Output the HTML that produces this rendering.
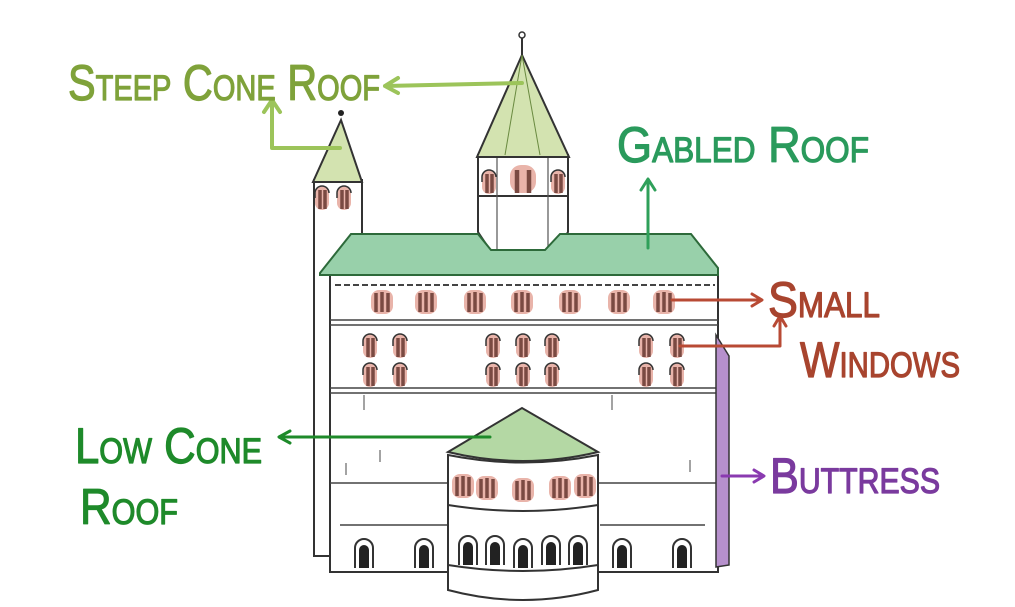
<!DOCTYPE html>
<html><head><meta charset="utf-8"><style>
html,body{margin:0;padding:0;background:#fff;width:1015px;height:607px;overflow:hidden}
svg{display:block}
.t{font-family:"Liberation Sans",sans-serif;font-variant:small-caps;font-size:50px;stroke-width:1.2;stroke-linejoin:round}
</style></head><body>
<svg width="1015" height="607" viewBox="0 0 1015 607" xmlns="http://www.w3.org/2000/svg">
<defs>
<g id="w3"><rect x="-11" y="-12" width="22" height="24" rx="8" fill="#e9b4aa"/><path d="M-6,-9v19M0,-10v20M6,-9v19" stroke="#7a4a42" stroke-width="3.5"/></g>
<g id="w2"><rect x="-7" y="-12" width="14" height="24" rx="7" fill="#e9b4aa"/><path d="M-2,-8v19M3,-8v19" stroke="#7a4a42" stroke-width="3.5"/><path d="M-7,0v-5a7,7 0 0 1 14,0" fill="none" stroke="#333" stroke-width="1.5"/></g>
<g id="dw"><path d="M-9,20v-20a9,9 0 0 1 18,0v20" fill="#fff" stroke="#333" stroke-width="2"/><path d="M-5,20v-18a5,5 0 0 1 10,0v18z" fill="#222"/></g>
</defs>
<rect x="314" y="180" width="48" height="376" fill="#fff" stroke="#333" stroke-width="2"/>
<use href="#w2" x="322" y="198"/><use href="#w2" x="344" y="198"/>
<polygon points="341,120 313,182 362,182" fill="#d3e3b0" stroke="#333" stroke-width="2"/>
<circle cx="341" cy="113" r="3" fill="#222"/>
<polygon points="478,155 568,155 568,232 556,250 490,250 478,232" fill="#fff" stroke="#333" stroke-width="2"/>
<line x1="478" y1="196" x2="568" y2="196" stroke="#333" stroke-width="2"/>
<path d="M497,155v95M548,155v95" stroke="#555" stroke-width="1.2"/>
<use href="#w2" x="489" y="182"/><use href="#w2" x="558" y="182"/>
<rect x="510" y="165" width="26" height="28" rx="11" fill="#e9b4aa"/><path d="M517,170v23M529,170v23" stroke="#7a4a42" stroke-width="4.5"/>
<polygon points="522,55 477,157 569,157" fill="#d3e3b0" stroke="#333" stroke-width="2"/>
<path d="M522,55L505,155M522,55L540,155" stroke="#6a8a40" stroke-width="1"/>
<line x1="522" y1="55" x2="522" y2="38" stroke="#333" stroke-width="2"/><circle cx="522" cy="35" r="3" fill="none" stroke="#333" stroke-width="1.5"/>
<rect x="330" y="274" width="388" height="298" fill="#fff" stroke="#333" stroke-width="2"/>
<path d="M330,320H718M330,325H718M330,388H718M330,393H718M330,483H718M340,525H448M600,525H705" stroke="#444" stroke-width="1.5"/>
<path d="M364,395v15M612,395v15M380,450v12M520,420v10M690,460v12M346,463v12" stroke="#666" stroke-width="1.2"/>
<path d="M335,285H715" stroke="#444" stroke-width="2" stroke-dasharray="6,3"/>
<use href="#w3" x="382" y="302"/><use href="#w3" x="426" y="302"/><use href="#w3" x="475" y="302"/><use href="#w3" x="522" y="302"/><use href="#w3" x="570" y="302"/><use href="#w3" x="619" y="302"/><use href="#w3" x="664" y="302"/>
<use href="#w2" x="370" y="346"/><use href="#w2" x="400" y="346"/><use href="#w2" x="493" y="346"/><use href="#w2" x="523" y="346"/><use href="#w2" x="552" y="346"/><use href="#w2" x="646" y="346"/><use href="#w2" x="677" y="346"/>
<use href="#w2" x="370" y="375"/><use href="#w2" x="400" y="375"/><use href="#w2" x="493" y="375"/><use href="#w2" x="523" y="375"/><use href="#w2" x="552" y="375"/><use href="#w2" x="646" y="375"/><use href="#w2" x="677" y="375"/>
<use href="#dw" x="364" y="548"/><use href="#dw" x="424" y="548"/><use href="#dw" x="622" y="548"/><use href="#dw" x="682" y="548"/>
<polygon points="320,273 351,234 478,234 491,250 545,250 560,234 691,234 718,268 718,275 320,275" fill="#98d0aa" stroke="#2d6a3a" stroke-width="2"/>
<polygon points="716,335 729,356 729,565 716,567" fill="#b690cc" stroke="#333" stroke-width="1.5"/>
<path d="M448,455Q523,470 598,455V590Q523,610 448,590Z" fill="#fff" stroke="#333" stroke-width="2"/>
<path d="M448,505Q523,517 598,505M448,565Q523,577 598,565" fill="none" stroke="#333" stroke-width="2"/>
<use href="#w3" x="463" y="486"/><use href="#w3" x="487" y="488"/><use href="#w3" x="523" y="490"/><use href="#w3" x="560" y="488"/><use href="#w3" x="585" y="486"/>
<use href="#dw" x="468" y="545"/><use href="#dw" x="495" y="545"/><use href="#dw" x="523" y="548"/><use href="#dw" x="551" y="545"/><use href="#dw" x="578" y="545"/>
<path d="M448,452L522,408L598,452Q523,470 448,452Z" fill="#b4d8a4" stroke="#333" stroke-width="2"/>
<g fill="none" stroke-linecap="round" stroke-linejoin="round" stroke-width="4">
<path d="M522,83L385,86M398,78L385,86L398,93" stroke="#9cc45a"/>
<path d="M340,148H272V102M264,112L272,100L280,112" stroke="#9cc45a"/>
<path d="M648,248V180M641,190L648,179L655,190" stroke="#2fa05a" stroke-width="3"/>
<path d="M672,300H760M752,294L762,300L752,306" stroke="#b84a34" stroke-width="3"/>
<path d="M680,346H780V318M774,326L780,316L786,326" stroke="#b84a34" stroke-width="3"/>
<path d="M722,476H762M754,470L764,476L754,482" stroke="#8a3ab0" stroke-width="3"/>
<path d="M490,437H280M290,431L279,437L290,443" stroke="#1e8a2a" stroke-width="3"/>
</g>
<text class="t" x="68" y="100" textLength="312" lengthAdjust="spacingAndGlyphs" fill="#7fa23a" stroke="#7fa23a">Steep Cone Roof</text>
<text class="t" x="617" y="162" textLength="252" lengthAdjust="spacingAndGlyphs" fill="#2a9a5c" stroke="#2a9a5c">Gabled Roof</text>
<text class="t" x="768" y="317" textLength="112" lengthAdjust="spacingAndGlyphs" fill="#a8442e" stroke="#a8442e">Small</text>
<text class="t" x="800" y="377" textLength="160" lengthAdjust="spacingAndGlyphs" fill="#a8442e" stroke="#a8442e">Windows</text>
<text class="t" x="770" y="493" textLength="170" lengthAdjust="spacingAndGlyphs" fill="#7a3a9e" stroke="#7a3a9e">Buttress</text>
<text class="t" x="75" y="463" textLength="187" lengthAdjust="spacingAndGlyphs" fill="#1e8a2a" stroke="#1e8a2a">Low Cone</text>
<text class="t" x="80" y="524" textLength="98" lengthAdjust="spacingAndGlyphs" fill="#1e8a2a" stroke="#1e8a2a">Roof</text>
</svg>
</body></html>
